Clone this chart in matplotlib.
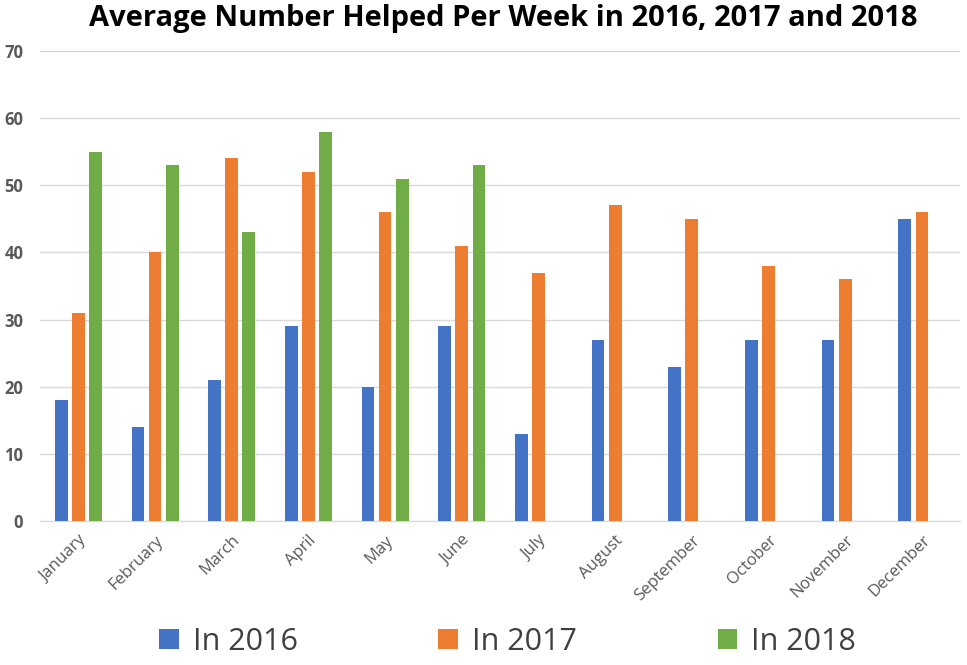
import matplotlib.pyplot as plt
import numpy as np

# data
months = ["January", "February", "March", "April", "May", "June", "July",
          "August", "September", "October", "November", "December"]
in_2016 = [18, 14, 21, 29, 20, 29, 13, 27, 23, 27, 27, 45]
in_2017 = [31, 40, 54, 52, 46, 41, 37, 47, 45, 38, 36, 46]
in_2018 = [55, 53, 43, 58, 51, 53]
y_ticks = [0, 10, 20, 30, 40, 50, 60, 70]

plt.rcParams['font.family'] = ['Open Sans', 'DejaVu Sans']

fig = plt.figure(figsize=(9.67, 6.65), dpi=100)
ax = fig.add_axes([0.0414, 0.2165, 0.9516, 0.7068])

x = np.arange(len(months))
step = 0.223
w = 0.166
ax.bar(x - step, in_2016, w, color='#4472C4', label='In 2016', zorder=3)
ax.bar(x, in_2017, w, color='#ED7D31', label='In 2017', zorder=3)
ax.bar(x[:len(in_2018)] + step, in_2018, w, color='#70AD47', label='In 2018', zorder=3)

ax.set_xlim(-0.5, len(months) - 0.5)
ax.set_ylim(0, 70)
ax.set_yticks(y_ticks)
ax.set_yticklabels([str(t) for t in y_ticks], fontsize=12, fontweight='bold', color='#595959')
ax.set_xticks(x)
ax.set_xticklabels(months, rotation=45, ha='right', rotation_mode='anchor',
                   fontsize=12, color='#595959')
ax.tick_params(axis='both', length=0)
ax.tick_params(axis='y', pad=12)
ax.tick_params(axis='x', pad=8)

ax.yaxis.grid(True, color='#D9D9D9', linewidth=1, zorder=0)
for s in ['left', 'right', 'top']:
    ax.spines[s].set_visible(False)
ax.spines['bottom'].set_color('#D9D9D9')

fig.text(0.52, 0.972, "Average Number Helped Per Week in 2016, 2017 and 2018",
         ha='center', va='center', fontsize=21, fontweight='bold', color='black')

fig.legend(loc='center', bbox_to_anchor=(0.525, 0.035), ncol=3, frameon=False,
           fontsize=22, handlelength=0.65, handleheight=0.65, handletextpad=0.45,
           columnspacing=4.6, labelcolor='#404040')

fig.savefig('out.png', dpi=100)
